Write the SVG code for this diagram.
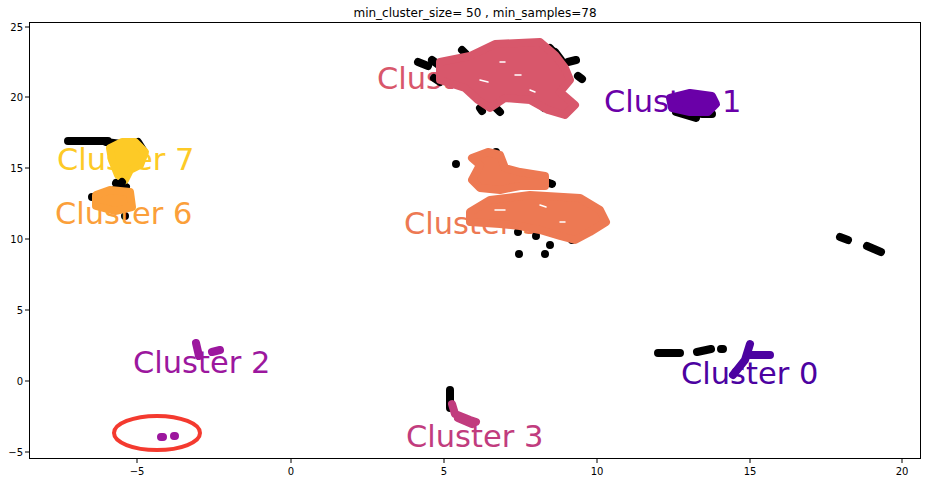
<svg xmlns="http://www.w3.org/2000/svg" width="932" height="482" viewBox="0 0 932 482">
<style>
text{font-family:"DejaVu Sans",sans-serif}
.t{font-size:10px;fill:#000}
.lab{font-size:30.5px}
.b{fill:none;stroke-linecap:round;stroke-linejoin:round}
.k{fill:none;stroke:#000;stroke-linecap:round;stroke-linejoin:round;stroke-width:8}
.p{stroke-width:8;stroke-linejoin:round}
</style>
<rect width="932" height="482" fill="#fff"/>
<text x="475" y="17" text-anchor="middle" font-size="12">min_cluster_size= 50 , min_samples=78</text>
<g id="labels">
<text class="lab" x="377" y="89" fill="#d8576b">Cluster 4</text>
<text class="lab" x="404" y="234" fill="#ed7953">Cluster 5</text>
</g>
<g id="points">
<g id="c4">
<path class="k" d="M418 62l10 4M432 60l8 6M462 50l4 4M520 64l3 3M550 48l5 6M555 52l6 8M568 62l8-2M578 76l4 3M565 84l-6 6M560 92l-6 8M538 94l-6 4M480 100l4 4M496 108l4 4M480 108l2 3M452 72l4 4M465 82l3 3M542 106l2 2M434 78l6 4"/>
<path class="p" fill="#d8576b" stroke="#d8576b" d="M440 62L470 56L495 44L540 42L555 55L565 68L570 80L560 92L575 105L565 115L548 110L530 100L505 98L490 108L478 100L465 88L440 80Z"/>
<path class="b" stroke="#fff" stroke-width="1.5" d="M480 80l8 2M515 75l6 0M530 90l5 2M500 62l5 0"/>
</g>
<g id="c1">
<path class="k" d="M676 112l20 6M702 114l10 0"/>
<path class="p" fill="#6a00a8" stroke="#6a00a8" d="M670 98L690 93L712 96L716 104L708 112L690 112L672 108Z"/>
</g>
<g id="c5">
<path class="k" d="M456 164l0 0M496 152l0 0M540 180l12 4M550 245l0 0M519 254l0 0M536 236l0 0M518 232l0 0M572 240l0 0M545 254l0 0"/>
<path class="p" fill="#ed7953" stroke="#ed7953" d="M488 152L500 155L505 168L520 172L545 176L545 186L520 186L500 190L480 188L472 180L480 165L472 158Z"/>
<path class="p" fill="#ed7953" stroke="#ed7953" d="M470 212L490 200L530 195L580 198L600 210L606 222L590 232L575 240L560 236L540 230L520 226L500 224L470 222Z"/>
<path class="b" stroke="#fff" stroke-width="1.5" d="M495 210l10 0M540 205l6 2M560 222l5 0"/>
</g>
<g id="c7">
<path class="k" d="M68 141l40 0M106 142l15 2M118 146l-6 6M124 145l8 0M138 142l5 8M116 183l10 4"/>
<path class="p" fill="#fdca26" stroke="#fdca26" d="M110 148L122 142L135 142L145 152L140 165L130 170L125 180L118 175L112 160Z"/>
</g>
<g id="c6">
<path class="k" d="M92 197l0 0M97 205l0 0M116 188l6-6M125 216l0 0"/>
<path class="p" fill="#fb9f3a" stroke="#fb9f3a" d="M96 195L110 190L130 192L132 207L115 211L96 206Z"/>
</g>
<g id="c2">
<path class="b" stroke="#9c179e" stroke-width="8" d="M196 343L199 356M212 352L220 350M161 437l2 0M174 436l1 0"/>
</g>
<g id="c3">
<path class="k" d="M450 390l0 18"/>
<path class="b" stroke="#c13c7e" stroke-width="8" d="M452 404L455 414L470 420L476 422M458 418L472 424"/>
</g>
<g id="c0">
<path class="k" d="M658 353l22 0M697 352l14-3M721 349l2 0M840 237l8 3M867 246l14 6"/>
<path class="b" stroke="#4c02a1" stroke-width="8" d="M733 375L745 360L750 344M748 355L770 355"/>
</g>
</g>
<g id="labels2">
<text class="lab" x="604" y="112" fill="#6a00a8">Cluster 1</text>
<text class="lab" x="57" y="170" fill="#fdca26">Cluster 7</text>
<text class="lab" x="55" y="224" fill="#fb9f3a">Cluster 6</text>
<text class="lab" x="133" y="373" fill="#9c179e">Cluster 2</text>
<text class="lab" x="681" y="384" fill="#4c02a1">Cluster 0</text>
<text class="lab" x="406" y="447" fill="#c13c7e">Cluster 3</text>
</g>
<ellipse cx="157" cy="433" rx="43" ry="17" fill="none" stroke="#f43a2f" stroke-width="4"/>
<g id="axes">
<rect x="29.5" y="22.5" width="891" height="436" fill="none" stroke="#000" stroke-width="1"/>
<path stroke="#000" d="M137 459v4M291 459v4M444 459v4M597 459v4M750 459v4M902 459v4M29 27h-4M29 97h-4M29 168h-4M29 239h-4M29 310h-4M29 381h-4M29 452h-4"/>
<g class="t" text-anchor="middle">
<text x="137" y="475">−5</text><text x="291" y="475">0</text><text x="444" y="475">5</text><text x="597" y="475">10</text><text x="750" y="475">15</text><text x="902" y="475">20</text>
</g>
<g class="t" text-anchor="end">
<text x="23" y="31">25</text><text x="23" y="101">20</text><text x="23" y="172">15</text><text x="23" y="243">10</text><text x="23" y="314">5</text><text x="23" y="385">0</text><text x="23" y="456">−5</text>
</g>
</g>
</svg>
